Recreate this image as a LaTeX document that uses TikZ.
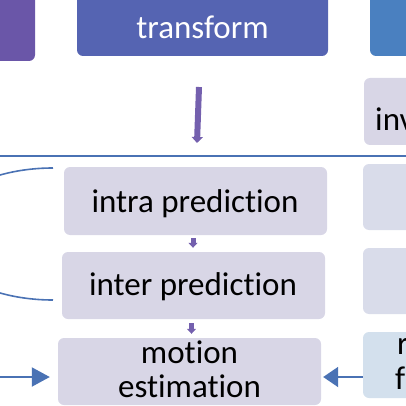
\documentclass[tikz,border=0pt]{standalone}
\usepackage{fontspec}
\setmainfont{Carlito}[Ligatures=NoCommon]
\usetikzlibrary{arrows.meta}
\definecolor{boxpurple}{HTML}{6A56A8}
\definecolor{boxindigo}{HTML}{5564B2}
\definecolor{boxblue}{HTML}{4A80C0}
\definecolor{lav}{HTML}{D8D6E6}
\definecolor{lavblue}{HTML}{D9DCEA}
\definecolor{paleblue}{HTML}{D3E0ED}
\definecolor{linblue}{HTML}{4A72B4}
\definecolor{arrpurple}{HTML}{7460AE}
\tikzset{
  box/.style={rectangle, rounded corners=6pt, draw=none, inner sep=0pt},
  lbl/.style={inner sep=0pt, anchor=base, font=\fontsize{33}{35}\selectfont, text=black},
  wlbl/.style={lbl, text=white},
  bigarrow/.style={draw=arrpurple, line width=6pt, -{Triangle[length=6pt,width=11pt]}},
  smallarrow/.style={draw=arrpurple, line width=5pt, -{Triangle[length=5pt,width=9pt]}},
  bluearrow/.style={draw=linblue, line width=2pt},
  bluecurve/.style={draw=linblue, line width=1.6pt},
}
\begin{document}
\begin{tikzpicture}[x=1pt,y=1pt]
\useasboundingbox (0,0) rectangle (406,-406);
\clip (0,0) rectangle (406,-406);
% top row
\node[box, fill=boxpurple, minimum width=45pt, minimum height=71pt] (pbox) at (12.5,-25.5) {};
\node[box, fill=boxindigo, minimum width=251pt, minimum height=66pt] (tbox) at (202.5,-23) {};
\node[wlbl] (ttext) at (202.5,-39) {transform};
\node[box, fill=boxblue, minimum width=50pt, minimum height=66pt] (bbox) at (395,-23) {};
% inv box
\node[box, fill=lav, minimum width=56pt, minimum height=67pt] (inv) at (392,-111.5) {};
\node[lbl, anchor=base west] (invt) at (375,-131) {inv};
% big arrow and rule
\coordinate (pa1) at (199,-87);
\coordinate (pa2) at (197,-143);
\draw[bigarrow] (pa1) -- (pa2);
\coordinate (hl1) at (0,-156);
\coordinate (hl2) at (406,-156);
\draw[draw=linblue, line width=2pt] (hl1) -- (hl2);
% middle column
\node[box, fill=lav, minimum width=263pt, minimum height=68pt] (intra) at (195.5,-201) {};
\node[lbl] (intrat) at (195,-212) {intra prediction};
\node[box, fill=lav, minimum width=263pt, minimum height=67pt] (inter) at (193.5,-285.5) {};
\node[lbl] (intert) at (193,-295) {inter prediction};
\node[box, fill=lav, minimum width=263pt, minimum height=67pt] (motion) at (189.5,-371.5) {};
\node[lbl] (mt1) at (189.5,-363) {motion};
\node[lbl] (mt2) at (189.5,-397) {estimation};
% right column
\node[box, fill=lavblue, minimum width=57pt, minimum height=66pt] (r1) at (391.5,-197) {};
\node[box, fill=lavblue, minimum width=57pt, minimum height=66pt] (r2) at (391.5,-281) {};
\node[box, fill=paleblue, minimum width=57pt, minimum height=66pt] (r3) at (391.5,-365) {};
\node[lbl, anchor=base west] (r3a) at (397,-354) {r};
\node[lbl, anchor=base west] (r3b) at (395,-389) {f};
% small arrows
\draw[smallarrow] ([xshift=-2.5pt,yshift=-3pt]intra.south) -- ([xshift=-0.5pt,yshift=4pt]inter.north);
\draw[smallarrow] ([xshift=-2pt,yshift=-4pt]inter.south) -- ([xshift=2pt,yshift=4pt]motion.north);
% left curve
\coordinate (c1) at (53,-168);
\draw[bluecurve] (c1) arc[start angle=90, end angle=270, x radius=118, y radius=66] coordinate (c2);
% blue arrows
\coordinate (lin) at (-2,-377);
\draw[bluearrow, -{Triangle[length=18pt,width=19pt]}, shorten >=8pt] (lin) -- (lin -| motion.west);
\draw[bluearrow, -{Triangle[length=15pt,width=20pt]}, shorten >=2pt] (r3.west |- lin) -- (lin -| motion.east);
\end{tikzpicture}
\end{document}
